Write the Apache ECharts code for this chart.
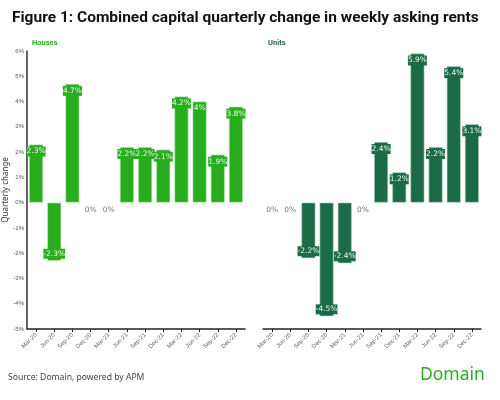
<!DOCTYPE html>
<html>
<head>
<meta charset="utf-8">
<script src="https://cdn.jsdelivr.net/npm/echarts@6/dist/echarts.min.js"></script>
<style>
html,body{margin:0;padding:0;background:#fff;}
#chart{width:500px;height:400px;}
</style>
</head>
<body>
<div id="chart"></div>
<script>
var quarters = ['Mar-20','Jun-20','Sep-20','Dec-20','Mar-21','Jun-21','Sep-21','Dec-21','Mar-22','Jun-22','Sep-22','Dec-22'];
var houses = [2.3, -2.3, 4.7, 0, 0, 2.2, 2.2, 2.1, 4.2, 4.0, 1.9, 3.8];
var units = [0, 0, -2.2, -4.5, -2.4, 0, 2.4, 1.2, 5.9, 2.2, 5.4, 3.1];

var houseColor = '#29ad1f';
var unitColor = '#1b6a48';

// 数据加标签: 正值放顶部, 负值放底部, 0 灰色
function toData(arr){
	return arr.map(function(v){
		var lab, item = {value:v};
		if(v === 0){
			lab = {show:true, position:'bottom', distance:2, color:'#777', backgroundColor:'transparent', formatter:'0%'};
			item.itemStyle = {borderWidth:0};
		}else if(v > 0){
			lab = {show:true, position:'insideTop', distance:2};
		}else{
			lab = {show:true, position:'insideBottom', distance:2};
		}
		item.label = lab;
		return item;
	});
}

function barLabel(color){
	return {
		show:true,
		fontSize:7.5,
		fontFamily:'DejaVu Sans',
		color:'#eaf6e8',
		backgroundColor:color,
		padding:[1,0],
		formatter:function(p){ return p.value + '%'; }
	};
}

var xCommon = function(idx){
	return {
		type:'category', gridIndex:idx, data:quarters,
		axisLine:{onZero:false, lineStyle:{color:'#222', width:1.5}},
		axisTick:{show:true, alignWithLabel:true, length:3, lineStyle:{color:'#222'}},
		axisLabel:{rotate:45, fontSize:6, color:'#666', margin:5, interval:0}
	};
};

var myChart = echarts.init(document.getElementById('chart'));
var option = {
	animation:false,
	title:[
		{text:'Figure 1: Combined capital quarterly change in weekly asking rents', left:7, top:5,
			textStyle:{fontSize:15.5, fontWeight:'bold', color:'#111', fontFamily:'Roboto'}},
		{text:'Houses', left:27, top:34, textStyle:{fontSize:7.5, fontWeight:'bold', color:houseColor, fontFamily:'Roboto'}},
		{text:'Units', left:263, top:34, textStyle:{fontSize:7.5, fontWeight:'bold', color:unitColor, fontFamily:'Roboto'}},
		{text:'Source: Domain, powered by APM', left:3, top:368, textStyle:{fontSize:8.6, fontWeight:'normal', color:'#444', fontFamily:'Noto Sans'}},
		{text:'Domain', left:415, top:361, textStyle:{fontSize:17.5, fontWeight:'normal', color:houseColor, fontFamily:'Noto Sans'}}
	],
	grid:[
		{left:27, right:255, top:51, bottom:71},
		{left:263, right:19, top:51, bottom:71}
	],
	xAxis:[xCommon(0), xCommon(1)],
	yAxis:[
		{type:'value', gridIndex:0, min:-5, max:6, interval:1,
			name:'Quarterly change', nameLocation:'middle', nameGap:15, nameRotate:90,
			nameTextStyle:{fontSize:8, color:'#333', fontFamily:'Noto Sans'},
			axisLine:{show:true, lineStyle:{color:'#333', width:1.5}},
			axisTick:{show:false},
			splitLine:{show:false},
			axisLabel:{fontSize:6, color:'#555', margin:3, formatter:'{value}%'}},
		{type:'value', gridIndex:1, min:-5, max:6, interval:1,
			axisLine:{show:false}, axisTick:{show:false}, splitLine:{show:false}, axisLabel:{show:false}}
	],
	series:[
		{type:'bar', xAxisIndex:0, yAxisIndex:0, barWidth:14, data:toData(houses),
			itemStyle:{color:houseColor, borderColor:'#c9ecc4', borderWidth:0.6},
			label:barLabel(houseColor)},
		{type:'bar', xAxisIndex:1, yAxisIndex:1, barWidth:14, data:toData(units),
			itemStyle:{color:unitColor, borderColor:'#bcd8c9', borderWidth:0.6},
			label:barLabel(unitColor)}
	]
};
myChart.setOption(option);
</script>
</body>
</html>
